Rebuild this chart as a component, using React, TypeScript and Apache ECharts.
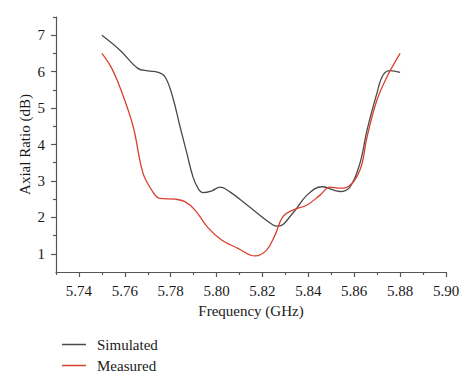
import React, { useEffect, useRef } from "react";
import * as echarts from "echarts";

const simFreq = [5.75, 5.7579, 5.7657, 5.7701, 5.7745, 5.7775, 5.7806, 5.7841, 5.787, 5.7897, 5.7919, 5.7941, 5.798, 5.8015, 5.8058, 5.8133, 5.8246, 5.8268, 5.8333, 5.8394, 5.846, 5.8538, 5.8582, 5.8625, 5.8656, 5.8699, 5.8725, 5.8756, 5.88];
const simAR = [7.0, 6.59, 6.09, 6.02, 5.98, 5.86, 5.36, 4.48, 3.77, 3.11, 2.8, 2.68, 2.73, 2.83, 2.7, 2.34, 1.79, 1.76, 2.12, 2.61, 2.84, 2.71, 2.84, 3.49, 4.4, 5.41, 5.9, 6.03, 5.98];

const measFreq = [5.75, 5.7543, 5.7586, 5.7636, 5.7679, 5.7717, 5.7753, 5.7819, 5.7862, 5.7906, 5.7963, 5.8022, 5.8093, 5.8167, 5.8218, 5.8255, 5.8289, 5.8333, 5.8394, 5.8451, 5.8494, 5.8538, 5.8573, 5.8625, 5.8656, 5.8699, 5.8743, 5.88];
const measAR = [6.5, 6.09, 5.45, 4.5, 3.22, 2.75, 2.52, 2.5, 2.43, 2.2, 1.71, 1.38, 1.15, 0.94, 1.1, 1.52, 2.02, 2.2, 2.34, 2.61, 2.83, 2.8, 2.84, 3.3, 4.21, 5.22, 5.86, 6.5];

const xMajor = [5.74, 5.76, 5.78, 5.8, 5.82, 5.84, 5.86, 5.88, 5.9];
const xMinor = [5.73, 5.75, 5.77, 5.79, 5.81, 5.83, 5.85, 5.87, 5.89];
const yMajor = [1, 2, 3, 4, 5, 6, 7];
const yMinor = [1.5, 2.5, 3.5, 4.5, 5.5, 6.5, 7.5];

const FONT = "Liberation Serif";
const AXIS_COLOR = "#555555";
const TEXT_COLOR = "#1a1a1a";

export default function App() {
  const ref = useRef<HTMLDivElement>(null);
  useEffect(() => {
    if (!ref.current) return;
    const chart = echarts.init(ref.current, undefined, { renderer: "svg" });
    const xBase = {
      type: "value",
      min: 5.73,
      max: 5.9,
      splitLine: { show: false },
    };
    const yBase = {
      type: "value",
      min: 0.5,
      max: 7.5,
      splitLine: { show: false },
    };
    chart.setOption({
      animation: false,
      backgroundColor: "#ffffff",
      grid: { left: 56, right: 28, top: 17, bottom: 115 },
      xAxis: [
        {
          ...xBase,
          name: "Frequency (GHz)",
          nameLocation: "middle",
          nameGap: 31,
          nameMoveOverlap: false,
          nameTextStyle: { fontFamily: FONT, fontSize: 15, color: TEXT_COLOR },
          axisLine: { show: true, lineStyle: { color: AXIS_COLOR, width: 1.2 } },
          axisTick: { show: true, length: 5, customValues: xMajor, lineStyle: { color: AXIS_COLOR, width: 1.2 } },
          axisLabel: {
            customValues: xMajor,
            margin: 11,
            fontFamily: FONT,
            fontSize: 15,
            color: TEXT_COLOR,
            formatter: (v: number) => v.toFixed(2),
          },
        },
        {
          ...xBase,
          position: "bottom",
          axisLine: { show: false },
          axisTick: { show: true, length: 3, customValues: xMinor, lineStyle: { color: AXIS_COLOR, width: 1.2 } },
          axisLabel: { show: false },
        },
      ],
      yAxis: [
        {
          ...yBase,
          name: "Axial Ratio (dB)",
          nameLocation: "middle",
          nameGap: 24,
          nameMoveOverlap: false,
          nameTextStyle: { fontFamily: FONT, fontSize: 15, color: TEXT_COLOR },
          axisLine: { show: true, lineStyle: { color: AXIS_COLOR, width: 1.2 } },
          axisTick: { show: true, length: 5, customValues: yMajor, lineStyle: { color: AXIS_COLOR, width: 1.2 } },
          axisLabel: {
            customValues: yMajor,
            margin: 11,
            fontFamily: FONT,
            fontSize: 15,
            color: TEXT_COLOR,
          },
        },
        {
          ...yBase,
          position: "left",
          axisLine: { show: false },
          axisTick: { show: true, length: 3, customValues: yMinor, lineStyle: { color: AXIS_COLOR, width: 1.2 } },
          axisLabel: { show: false },
        },
      ],
      legend: {
        orient: "vertical",
        left: 57,
        top: 332,
        icon: "rect",
        itemWidth: 24,
        itemHeight: 1.5,
        itemGap: 6,
        textStyle: { fontFamily: FONT, fontSize: 15, color: TEXT_COLOR, padding: [0, 0, 0, 6] },
        data: ["Simulated", "Measured"],
      },
      series: [
        {
          name: "Simulated",
          type: "line",
          smooth: 0.4,
          showSymbol: false,
          symbol: "none",
          color: "#4a4a4a",
          lineStyle: { color: "#4a4a4a", width: 1.3 },
          data: simFreq.map((f, i) => [f, simAR[i]]),
        },
        {
          name: "Measured",
          type: "line",
          smooth: 0.4,
          showSymbol: false,
          symbol: "none",
          color: "#d8412f",
          lineStyle: { color: "#d8412f", width: 1.3 },
          data: measFreq.map((f, i) => [f, measAR[i]]),
        },
      ],
    });
    return () => chart.dispose();
  }, []);
  return <div ref={ref} style={{ width: 474, height: 387, position: "absolute", left: 0, top: 0 }} />;
}
